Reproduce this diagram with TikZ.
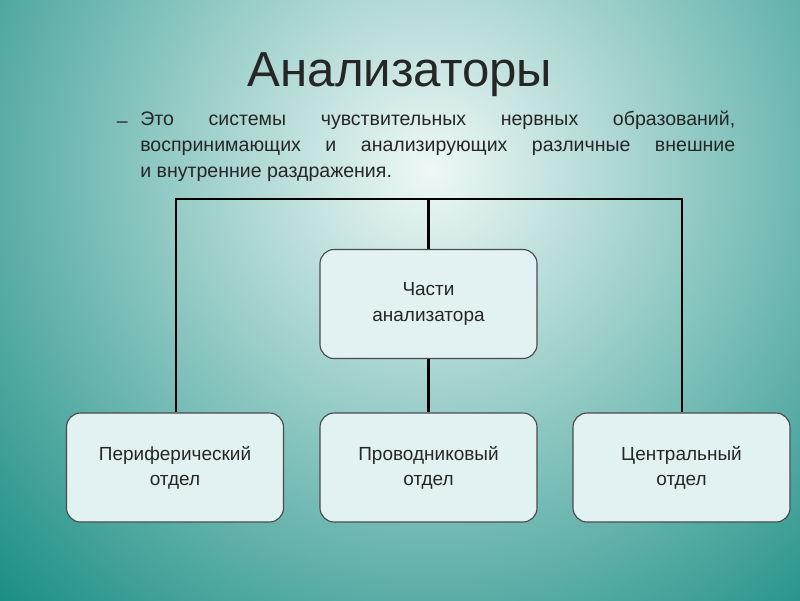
\documentclass[tikz,border=0pt]{standalone}
\usepackage{fontspec}
\setmainfont{Liberation Sans}
\definecolor{bgin}{HTML}{EEF8F6}
\definecolor{bgout}{HTML}{11897F}
\definecolor{boxfill}{HTML}{E2F1F1}
\definecolor{boxline}{HTML}{4A4A4A}
\begin{document}
\begin{tikzpicture}[x=0.025cm,y=-0.025cm,
  part/.style={draw=boxline,line width=0.8pt,fill=boxfill,rounded corners=10pt,minimum width=217*0.025cm,minimum height=109*0.025cm,align=center,font=\fontsize{13.5}{18}\selectfont,text=black!85},
  link/.style={line width=1.6pt,black}]
\useasboundingbox (0,0) rectangle (800,600);
\begin{scope}
\clip (0,0) rectangle (800,600);
\shade[inner color=bgin,outer color=bgout] (430,170) circle (640);
\end{scope}
\node[font=\fontsize{35}{42}\selectfont,text=black!85] (title) at (400,75) {Анализаторы};
\node[anchor=north west,text width=595*0.025cm,align=justify,font=\fontsize{13.9}{18.3}\selectfont,text=black!85,inner sep=0] (desc) at (140,111)
 {Это системы чувствительных нервных образований,\linebreak воспринимающих и анализирующих различные внешние\linebreak и внутренние раздражения.};
\node[anchor=base east,font=\fontsize{13.9}{18}\selectfont,text=black!85,inner sep=0] (dash) at (128,127) {–};
\node[part] (c) at (428.5,304) {Части\\анализатора};
\node[part] (l) at (175,467.5) {Периферический\\отдел};
\node[part] (m) at (428.5,467.5) {Проводниковый\\отдел};
\node[part] (r) at (681.5,467.5) {Центральный\\отдел};
\coordinate (tl) at (176,199);
\coordinate (tm) at (428.5,199);
\coordinate (tr) at (682,199);
\draw[link] (l.north -| tl) -- (tl) -- (tr) -- (r.north -| tr);
\draw[link] (tm) -- (c.north);
\draw[link] (c.south) -- (m.north);
\end{tikzpicture}
\end{document}
